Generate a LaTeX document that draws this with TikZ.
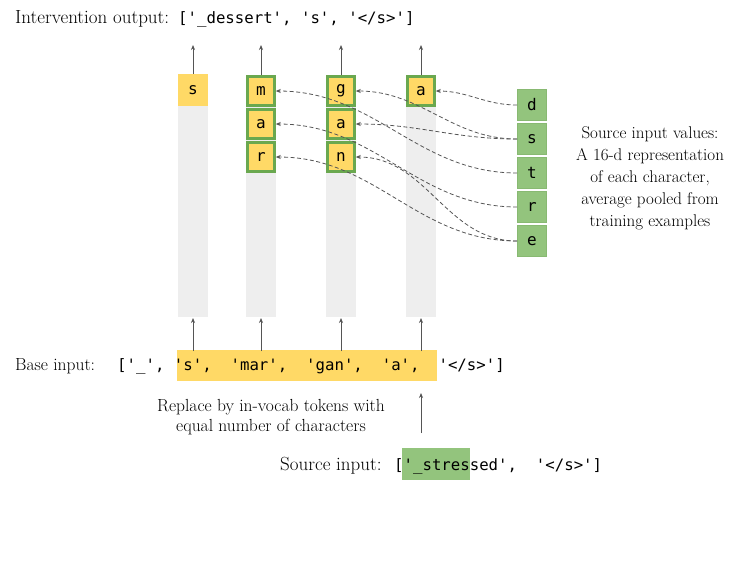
\documentclass[tikz,border=0pt]{standalone}
\usepackage{fontspec}
\newfontfamily\mono{DejaVu Sans Mono}
\usetikzlibrary{arrows.meta}
\definecolor{ylw}{HTML}{FFD966}
\definecolor{grn}{HTML}{93C47D}
\definecolor{dgrn}{HTML}{6AA84F}
\definecolor{bar}{HTML}{EEEEEE}
\definecolor{ln}{HTML}{555555}
\begin{document}
\begin{tikzpicture}[x=1pt,y=-1pt,
  txt/.style={font=\fontsize{17.5}{20}\selectfont, inner sep=0pt},
  mt/.style={font=\mono\fontsize{15.7}{17}\selectfont, inner sep=0pt},
  ch/.style={font=\mono\fontsize{16}{16}\selectfont, minimum width=30pt, minimum height=32pt, inner sep=0pt},
  yb/.style={ch, fill=ylw},
  ybg/.style={ch, fill=ylw, draw=dgrn, line width=2.5pt, minimum width=27pt, minimum height=29pt},
  gb/.style={ch, fill=grn, draw=dgrn!80!white, line width=1pt, minimum width=29pt, minimum height=31pt},
  ar/.style={-{Stealth[length=5pt,width=4pt]}, ln, line width=0.7pt},
  da/.style={ar, dashed, dash pattern=on 4pt off 2.5pt, line width=0.8pt}]
\useasboundingbox (0,0) rectangle (752,581);
% bars
\foreach \x in {193,261,341,421} \fill[bar] (\x-15,90) rectangle (\x+15,317);
% highlights
\fill[ylw] (177,350) rectangle (437,381);
\fill[grn] (402,448) rectangle (470,480);
% boxes
\node[yb] (s1) at (193,90) {s};
\node[ybg] (m) at (261,91) {m};
\node[ybg] (a2) at (261,124) {a};
\node[ybg] (r2) at (261,157) {r};
\node[ybg] (g) at (341,91) {g};
\node[ybg] (a3) at (341,124) {a};
\node[ybg] (n) at (341,157) {n};
\node[ybg] (a4) at (421,91) {a};
\node[gb] (d) at (532,105) {d};
\node[gb] (s) at (532,139) {s};
\node[gb] (t) at (532,173) {t};
\node[gb] (r) at (532,207) {r};
\node[gb] (e) at (532,241) {e};
% output arrows
\coordinate (o1) at (193,45); \coordinate (o2) at (261,45);
\coordinate (o3) at (341,45); \coordinate (o4) at (421,45);
\draw[ar] (s1.north) -- (o1);
\draw[ar] (m.north) -- (o2);
\draw[ar] (g.north) -- (o3);
\draw[ar] (a4.north) -- (o4);
% dashed
\draw[da] (d.west) to[out=180,in=0] (a4.east);
\draw[da] (s.west) to[out=180,in=0] (g.east);
\draw[da] (s.west) to[out=180,in=0] (a3.east);
\draw[da] (t.west) to[out=180,in=0] (m.east);
\draw[da] (r.west) to[out=180,in=0] (a2.east);
\draw[da] (e.west) to[out=180,in=0] (r2.east);
\draw[da] (e.west) to[out=180,in=0] (n.east);
% input arrows
\foreach \x/\n in {193/i1,261/i2,341/i3,421/i4}{
  \coordinate (\n b) at (\x,351); \coordinate (\n t) at (\x,318);
  \draw[ar] (\n b) -- (\n t);}
\coordinate (sb) at (421,433); \coordinate (st) at (421,393);
\draw[ar] (sb) -- (st);
% texts
\node[txt, font=\fontsize{19}{21}\selectfont, anchor=base west] (iot) at (15,23) {Intervention output:};
\node[mt, anchor=base west] (iov) at (178,23) {['\_dessert', 's', '</s>']};
\node[txt, anchor=base west] (bit) at (15,370) {Base input:};
\node[mt, anchor=base west] (biv) at (117,370) {['\_', 's',\ \ 'mar',\ \ 'gan',\ \ 'a',\ \ '</s>']};
\node[txt, align=center] (rep) at (271,417) {Replace by in-vocab tokens with\\equal number of characters};
\node[txt, font=\fontsize{19}{21}\selectfont, anchor=base west] (sit) at (280,470) {Source input:};
\node[mt, anchor=base west] (siv) at (394,470) {['\_stressed',\ \ '</s>']};
\node[txt, align=center, font=\fontsize{17}{22}\selectfont] (src) at (650,178) {Source input values:\\A 16-d representation\\of each character,\\average pooled from\\training examples};
\end{tikzpicture}
\end{document}
